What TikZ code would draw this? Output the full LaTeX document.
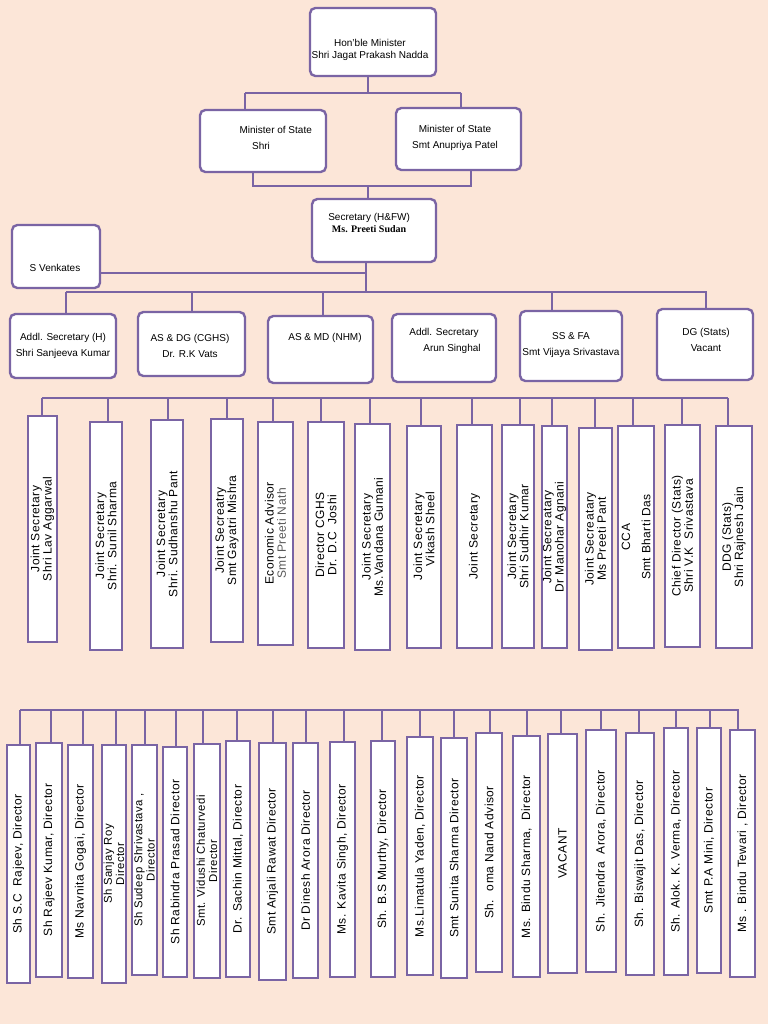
\documentclass[tikz,border=0pt]{standalone}
\usepackage{fontspec}
\setmainfont{Liberation Sans}
\usetikzlibrary{fit}
\definecolor{bg}{HTML}{FCE6D8}
\definecolor{ln}{HTML}{7A64A4}
\tikzset{
 box/.style={draw=ln, line width=1.8pt, fill=white, inner sep=0pt},
 rbox/.style={box, rounded corners=4pt},
 conn/.style={draw=ln, line width=1.8pt},
 ttxt/.style={font=\fontsize{7.5}{9}\selectfont, align=center, inner sep=0pt},
 vtxt/.style={rotate=90, font=\fontsize{9}{9.2}\selectfont\addfontfeature{LetterSpace=4}, align=center, inner sep=0pt},
}
% \vb{name}{x1}{y1}{x2}{y2}{dropx}{busy}{text}
\newcommand\vb[8]{%
 \node[box, fit={(#2,#3)(#4,#5)}] (#1) {};
 \node[vtxt] (#1t) at (#1.center) {#8};
 \coordinate (#1d) at (#6,#7);
 \draw[conn] (#1d) -- (#1d |- #1.north);
}
\begin{document}
\begin{tikzpicture}[x=0.75pt,y=-0.75pt]
\fill[bg] (0,0) rectangle (768,1024);
\useasboundingbox (0,0) rectangle (768,1024);
% top
\node[rbox, fit={(310,8)(436,76)}] (min) {};
\node[ttxt] (mint) at (370,50) {Hon'ble Minister\\Shri Jagat Prakash Nadda};
\node[rbox, fit={(200,110)(326,172)}] (mos1) {};
\node[ttxt, anchor=west] (mos1t) at (210,138) {\hspace{22pt}Minister of State\\[3pt]Shri};
\node[rbox, fit={(396,108)(521,170)}] (mos2) {};
\node[ttxt] (mos2t) at (455,138) {Minister of State\\[3pt]Smt Anupriya Patel};
\node[rbox, fit={(312,199)(436,262)}] (sec) {};
\node[ttxt, anchor=north west] (sect) at (328,213) {Secretary (H\&FW)\\\textbf{\fontspec{Liberation Serif}Ms. Preeti Sudan}};
\node[rbox, fit={(12,225)(100,288)}] (sv) {};
\node[ttxt] (svt) at (55,268) {S Venkates};
\coordinate (b1) at (368,93);
\draw[conn] (min.south -| b1) -- (b1);
\draw[conn] (245,93) -- (461,93);
\draw[conn] (245,93) -- (245,110);
\draw[conn] (461,93) -- (461,108);
\draw[conn] (253,172) -- (253,186) -- (471,186) -- (471,170);
\draw[conn] (368,186) -- (368,199);
\draw[conn] (sv.east |- 0,273) -- (366,273);
\draw[conn] (366,262) -- (366,292);
\draw[conn] (66,292) -- (707,292);
% level 3
\node[rbox, fit={(10,314)(116,378)}] (l1) {};
\node[ttxt] (l1t) at (63,346) {Addl. Secretary (H)\\[3pt]Shri Sanjeeva Kumar};
\node[rbox, fit={(138,312)(245,376)}] (l2) {};
\node[ttxt] (l2t) at (190,346) {AS \& DG (CGHS)\\[3pt]Dr. R.K Vats};
\node[rbox, fit={(268,316)(373,383)}] (l3) {};
\node[ttxt] (l3t) at (325,338) {AS \& MD (NHM)};
\node[rbox, fit={(392,314)(496,382)}] (l4) {};
\node[ttxt] (l4t) at (444,341) {Addl. Secretary\\[3pt]\hspace{12pt}Arun Singhal};
\node[rbox, fit={(520,311)(622,381)}] (l5) {};
\node[ttxt] (l5t) at (571,345) {SS \& FA\\[3pt]Smt Vijaya Srivastava};
\node[rbox, fit={(657,309)(753,380)}] (l6) {};
\node[ttxt] (l6t) at (706,340) {DG (Stats)\\[3pt]Vacant};
\foreach \n/\x in {l1/66,l2/192,l3/323,l5/552,l6/706}{
 \draw[conn] (\x,292) -- (\x,0 |- \n.north);
}
% row 4
\draw[conn] (42,398) -- (728,398);
\vb{a1}{28}{416}{57}{642}{42}{398}{Joint Secretary\\Shri Lav Aggarwal}
\vb{a2}{90}{422}{122}{650}{108}{398}{Joint Secretary\\Shri. Sunil Sharma}
\vb{a3}{151}{420}{183}{648}{168}{398}{Joint Secretary\\Shri. Sudhanshu Pant}
\vb{a4}{211}{419}{243}{642}{227}{398}{Joint Secreatry\\Smt Gayatri Mishra}
\vb{a5}{258}{422}{293}{645}{273}{398}{Economic Advisor\\\color{black!65}Smt Preeti Nath}
\vb{a6}{308}{422}{344}{648}{321}{398}{Director CGHS\\Dr. D.C \ Joshi}
\vb{a7}{355}{424}{390}{650}{370}{398}{Joint Secretary\\Ms.Vandana Gumani}
\vb{a8}{407}{426}{441}{648}{421}{398}{Joint Secretary\\\hspace{12pt}Vikash Sheel}
\vb{a9}{457}{425}{492}{648}{472}{398}{Joint Secretary}
\vb{a10}{502}{425}{534}{648}{520}{398}{Joint Secretary\\Shri Sudhir Kumar}
\vb{a11}{542}{426}{567}{648}{552}{398}{Joint Secreatary\\Dr Manohar Agnani}
\vb{a12}{579}{428}{612}{650}{595}{398}{Joint Secreatary\\Ms Preeti Pant}
\vb{a13}{618}{426}{654}{648}{633}{398}{CCA\\[6pt]Smt Bharti Das}
\vb{a14}{665}{425}{700}{647}{682}{398}{Chief Director (Stats)\\Shri V.K \ Srivastava}
\vb{a15}{716}{426}{752}{648}{728}{398}{DDG (Stats)\\Shri Rajnesh Jain}
% row 5
\draw[conn] (20,710) -- (739,710);
\vb{b1}{7}{745}{30}{983}{20}{710}{Sh S.C \ Rajeev, Director}
\vb{b2}{36}{743}{62}{977}{51}{710}{Sh Rajeev Kumar, Director}
\vb{b3}{68}{745}{93}{978}{83}{710}{Ms Navnita Gogai, Director}
\vb{b4}{102}{745}{126}{983}{116}{710}{\fontsize{8.5}{8.6}\selectfont Sh Sanjay Roy\\\fontsize{8.5}{8.6}\selectfont Director}
\vb{b5}{132}{745}{157}{975}{145}{710}{\fontsize{8.5}{8.6}\selectfont Sh Sudeep Shrivastava ,\\\fontsize{8.5}{8.6}\selectfont Director}
\vb{b6}{163}{747}{187}{977}{176}{710}{Sh Rabindra Prasad Director}
\vb{b7}{194}{744}{220}{978}{203}{710}{\fontsize{8.5}{8.6}\selectfont Smt. Vidushi Chaturvedi\\\fontsize{8.5}{8.6}\selectfont Director}
\vb{b8}{226}{741}{250}{977}{237}{710}{Dr. Sachin Mittal, Director}
\vb{b9}{259}{743}{286}{980}{273}{710}{Smt Anjali Rawat Director}
\vb{b10}{293}{743}{318}{978}{306}{710}{Dr Dinesh Arora Director}
\vb{b11}{330}{742}{355}{977}{344}{710}{Ms. Kavita Singh, Director}
\vb{b12}{371}{741}{395}{977}{382}{710}{Sh. B.S Murthy, Director}
\vb{b13}{407}{737}{433}{975}{420}{710}{Ms.Limatula Yaden, Director}
\vb{b14}{441}{738}{467}{978}{454}{710}{Smt Sunita Sharma Director}
\vb{b15}{476}{733}{502}{972}{490}{710}{Sh. \ oma Nand Advisor}
\vb{b16}{513}{736}{540}{977}{527}{710}{Ms. Bindu Sharma, \ Director}
\vb{b17}{548}{734}{577}{973}{561}{710}{VACANT}
\vb{b18}{586}{730}{616}{972}{601}{710}{Sh. Jitendra \ Arora, Director}
\vb{b19}{626}{733}{654}{975}{639}{710}{Sh. Biswajit Das, Director}
\vb{b20}{664}{728}{688}{975}{676}{710}{Sh. Alok. K. Verma, Director}
\vb{b21}{697}{728}{721}{973}{710}{710}{Smt P.A Mini, Director}
\vb{b22}{730}{730}{755}{977}{738}{710}{Ms . Bindu Tewari , Director}
\end{tikzpicture}
\end{document}
